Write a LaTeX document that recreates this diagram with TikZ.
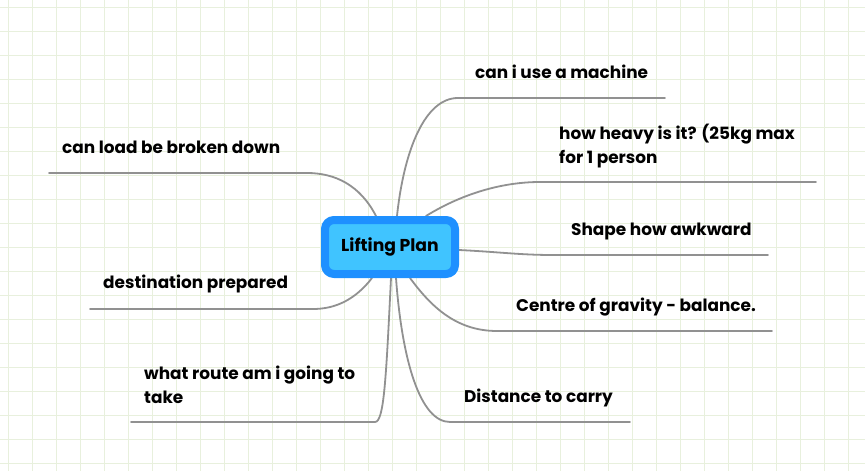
\documentclass[tikz,border=0pt]{standalone}
\usepackage{fontspec}
\setmainfont{Poppins}
\begin{document}
\begin{tikzpicture}[x=1pt,y=-1pt,line cap=round,line join=round,
  hub/.style={draw=hubblue,fill=hubfill,line width=8pt,rounded corners=9pt,
    minimum width=130pt,minimum height=54pt,font=\bfseries\fontsize{17.2}{20}\selectfont},
  twig/.style={draw=twiggray,line width=1.8pt},
  leaf/.style={anchor=base west,inner sep=0pt,align=left,
    font=\bfseries\fontsize{16.9}{24}\selectfont}]
\definecolor{hubblue}{RGB}{30,144,255}
\definecolor{hubfill}{RGB}{64,196,255}
\definecolor{twiggray}{RGB}{145,145,145}
\definecolor{gridgreen}{RGB}{232,240,221}

\useasboundingbox (0,0) rectangle (865,471);
\fill[white] (0,0) rectangle (865,471);

% Paper grid.
\foreach \x in {8,32,...,860}
  \draw[gridgreen,line width=1pt] (\x,0) -- (\x,471);
\foreach \y in {7,31,...,470}
  \draw[gridgreen,line width=1pt] (0,\y) -- (865,\y);

% Free ends of the branch lines.
\coordinate (machineK) at (458,98);   \coordinate (machineE) at (665,98);
\coordinate (heavyK) at (540,182);    \coordinate (heavyE) at (816,182);
\coordinate (shapeK) at (553,255);    \coordinate (shapeE) at (768,255);
\coordinate (gravK) at (497,331);     \coordinate (gravE) at (772,331);
\coordinate (distK) at (450,422);     \coordinate (distE) at (630,422);
\coordinate (loadK) at (307,173);     \coordinate (loadE) at (49,173);
\coordinate (destK) at (313,309);     \coordinate (destE) at (90,309);
\coordinate (routeK) at (375,422);    \coordinate (routeE) at (131,422);

% Branches, drawn before the hub so they tuck under its border.
\draw[twig] ([xshift=7pt]390,216) .. controls (404,150) and (425,98) .. (machineK) -- (machineE);
\draw[twig] ([xshift=36pt]390,216) .. controls (460,195) and (500,182) .. (heavyK) -- (heavyE);
\draw[twig] (459,250) .. controls (500,252) and (520,255) .. (shapeK) -- (shapeE);
\draw[twig] ([xshift=20pt]390,278) .. controls (430,305) and (455,331) .. (gravK) -- (gravE);
\draw[twig] ([xshift=6pt]390,278) .. controls (402,360) and (420,422) .. (distK) -- (distE);
\draw[twig] ([xshift=-14pt]390,216) .. controls (360,185) and (335,173) .. (loadK) -- (loadE);
\draw[twig] ([xshift=-18pt]390,278) .. controls (355,300) and (335,309) .. (destK) -- (destE);
\draw[twig] ([xshift=1pt]390,278) .. controls (386,380) and (384,422) .. (routeK) -- (routeE);

\node[hub] (hub) at (390,247) {Lifting Plan};

% Branch labels (base west = baseline of the last line).
\node[leaf] (machine) at (475,78) {can i use a machine};
\node[leaf] (heavy) at (559,163) {how heavy is it? (25kg max\\for 1 person};
\node[leaf] (shape) at (571,235) {Shape how awkward};
\node[leaf] (grav) at (516,311) {Centre of gravity - balance.};
\node[leaf] (dist) at (464,402) {Distance to carry};
\node[leaf] (load) at (62,153) {can load be broken down};
\node[leaf] (dest) at (103,288) {destination prepared};
\node[leaf] (route) at (144,403) {what route am i going to\\take};
\end{tikzpicture}
\end{document}
